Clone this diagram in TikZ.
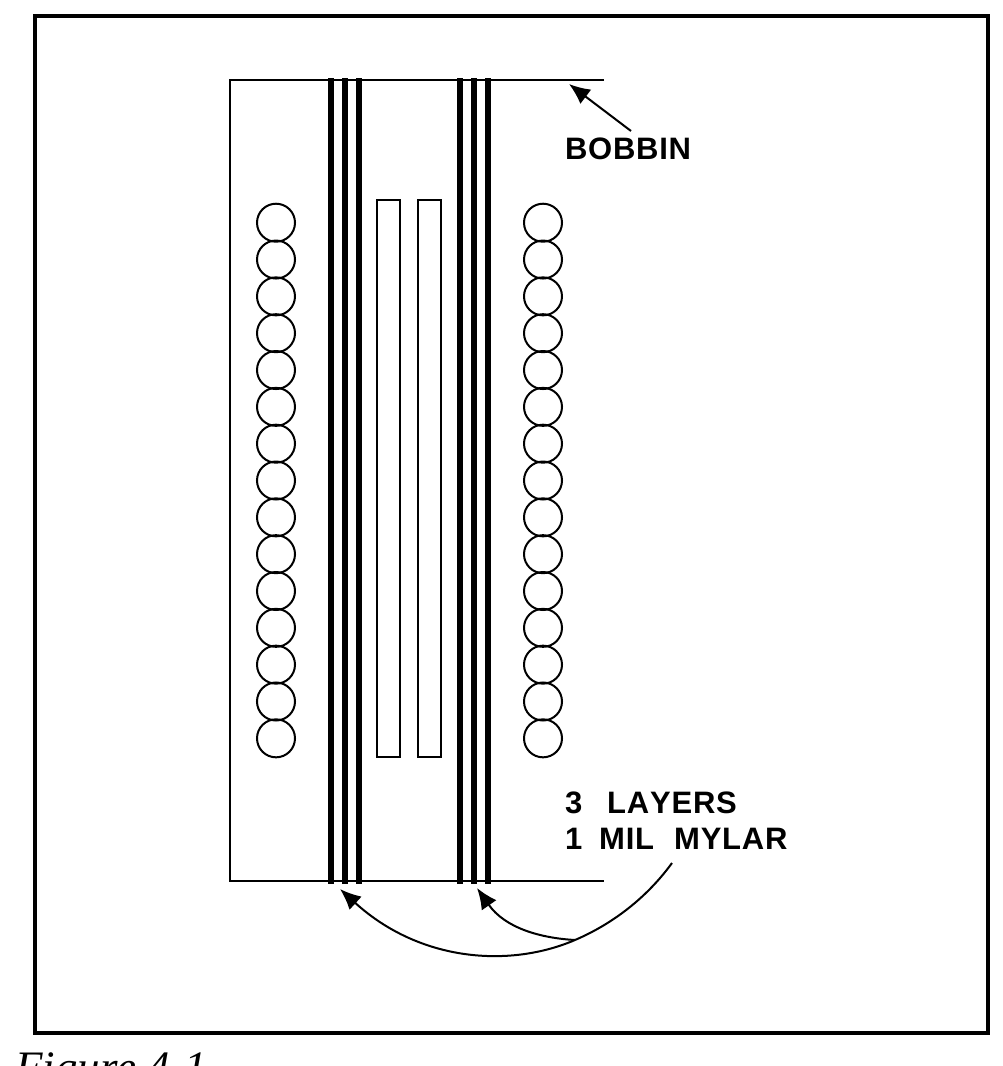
\documentclass[tikz,border=0pt]{standalone}
\usepackage{fontspec}
\setmainfont{Liberation Sans}
\newfontfamily\lblfont[LetterSpace=2.5,Kerning=Off]{Liberation Sans}
\newfontfamily\capfont{Liberation Serif}
\usetikzlibrary{arrows.meta}
\tikzset{
  frame/.style={draw=black,line width=4pt},
  thin line/.style={draw=black,line width=2pt},
  layer/.style={draw=black,line width=6pt},
  turn/.style={circle,draw=black,line width=2pt,minimum size=38pt,inner sep=0pt,outer sep=0pt},
  core/.style={draw=black,line width=1.6pt},
  lead/.style={draw=black,line width=2pt,-{Latex[length=21pt,width=18pt]}},
  plain lead/.style={draw=black,line width=2pt},
  lbl/.style={anchor=base west,inner sep=0pt,outer sep=0pt,font=\lblfont\bfseries\fontsize{31}{31}\selectfont},
}
\begin{document}
\begin{tikzpicture}[x=1pt,y=-1pt]
\useasboundingbox (0,0) rectangle (1002,1066);
\clip (0,0) rectangle (1002,1066);
\draw[frame] (34.5,16) rectangle (988,1033);
\draw[thin line] (604,80) -- (230,80) -- (230,881) -- (604,881);
\foreach \x in {331,345,359,460,474,488} \draw[layer] (\x,78) -- (\x,884);
\draw[core] (377,200) rectangle (400,757);
\draw[core] (418,200) rectangle (441,757);
\foreach \i in {0,...,14} {
  \node[turn] (l\i) at (276,222.7+36.83*\i) {};
  \node[turn] (r\i) at (543,222.7+36.83*\i) {};
}
\node[lbl] (bob) at (565,159) {BOBBIN};
\node[lbl] (lay) at (565,813) {3\hspace{25pt}LAYERS};
\node[lbl] (mil) at (565,849) {1\hspace{17pt}MIL\hspace{20pt}MYLAR};
\coordinate (bobstart) at (631,131);
\coordinate (bobtip) at (569,84);
\draw[lead] (bobstart) -- (bobtip);
\coordinate (cs) at (672,863);
\coordinate (cj) at (575,940);
\coordinate (t1) at (340,889);
\coordinate (t2) at (477,888);
\draw[plain lead] (cs) .. controls (645,900) and (610,925) .. (cj);
\draw[lead] (cj) .. controls (510,968) and (420,962) .. (t1);
\draw[lead] (cj) .. controls (540,938) and (505,928) .. (t2);
\node[anchor=base west,inner sep=0pt,font=\capfont\itshape\fontsize{45}{45}\selectfont] (fig) at (15,1082) {Figure 4-1};
\end{tikzpicture}
\end{document}
